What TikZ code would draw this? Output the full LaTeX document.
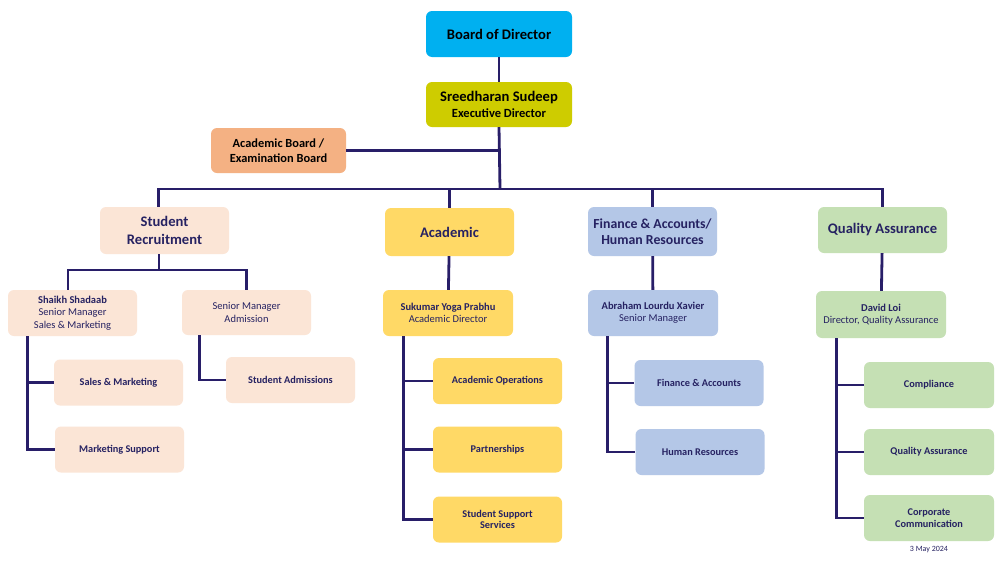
\documentclass[tikz,border=0pt]{standalone}
\usepackage{fontspec}
\setmainfont{Carlito}
\usetikzlibrary{calc}
\definecolor{navy}{RGB}{38,34,98}
\definecolor{lnavy}{RGB}{40,30,104}
\definecolor{cbod}{RGB}{0,176,240}
\definecolor{cexe}{RGB}{206,204,0}
\definecolor{cacb}{RGB}{244,177,131}
\definecolor{csr}{RGB}{251,229,214}
\definecolor{cac}{RGB}{255,217,102}
\definecolor{cfin}{RGB}{180,199,231}
\definecolor{cqa}{RGB}{197,224,180}
\tikzset{
  box/.style={rectangle, rounded corners=6pt, inner sep=0pt, align=center, text=navy},
  conn/.style={draw=lnavy, line width=2.8pt, line join=miter},
}
\begin{document}
\begin{tikzpicture}[x=1pt,y=-1pt]
\useasboundingbox (0,0) rectangle (1000,560);
\fill[white] (0,0) rectangle (1000,560);
% top
\node[box, fill=cbod, text=black, minimum width=146pt, minimum height=46pt, font=\bfseries\fontsize{14.6}{16}\selectfont] (bod) at (499,34) {Board of Director};
\node[box, fill=cexe, text=black, minimum width=146pt, minimum height=45pt, font=\fontsize{12.5}{16}\selectfont] (exe) at (499,104.5) {{\bfseries\fontsize{14.6}{16}\selectfont Sreedharan Sudeep}\\{\bfseries\fontsize{12.5}{16}\selectfont Executive Director}};
\node[box, fill=cacb, text=black, minimum width=135pt, minimum height=45pt, font=\bfseries\fontsize{12.4}{15}\selectfont] (acb) at (278.5,150.5) {Academic Board /\\Examination Board};
% level 1
\node[box, fill=csr, minimum width=129pt, minimum height=47pt, font=\bfseries\fontsize{14.6}{18}\selectfont] (sr) at (164.5,230.5) {Student\\Recruitment};
\node[box, fill=cac, minimum width=129pt, minimum height=48pt, font=\bfseries\fontsize{14.6}{17}\selectfont] (ac) at (449.5,232) {Academic};
\node[box, fill=cfin, minimum width=129pt, minimum height=49pt, font=\bfseries\fontsize{13.8}{16.5}\selectfont] (fin) at (652.5,231.5) {Finance \& Accounts/\\Human Resources};
\node[box, fill=cqa, minimum width=129pt, minimum height=46pt, font=\bfseries\fontsize{14.6}{17}\selectfont] (qa) at (882.5,230) {Quality Assurance};
% level 2
\node[box, fill=csr, minimum width=129pt, minimum height=46pt, font=\fontsize{10.5}{12.3}\selectfont] (sh) at (72.5,313) {\textbf{Shaikh Shadaab}\\Senior Manager\\Sales \& Marketing};
\node[box, fill=csr, minimum width=129pt, minimum height=45pt, font=\fontsize{10.5}{12.3}\selectfont] (sma) at (246.5,312.5) {Senior Manager\\Admission};
\node[box, fill=cac, minimum width=130pt, minimum height=46pt, font=\fontsize{10.5}{12.3}\selectfont] (sk) at (448,313) {\textbf{Sukumar Yoga Prabhu}\\Academic Director};
\node[box, fill=cfin, minimum width=130pt, minimum height=46pt, font=\fontsize{10.5}{12.3}\selectfont] (ab) at (653,313) {\textbf{Abraham Lourdu Xavier}\\Senior Manager};
\node[box, fill=cqa, minimum width=130pt, minimum height=47pt, font=\fontsize{10.5}{12.3}\selectfont] (dl) at (881,314.5) {\textbf{David Loi}\\Director, Quality Assurance};
% leaves
\tikzset{leaf/.style={box, minimum width=129pt, minimum height=46pt, font=\bfseries\fontsize{10.3}{11.8}\selectfont}}
\node[leaf, fill=csr] (sm) at (118.5,382.5) {Sales \& Marketing};
\node[leaf, fill=csr] (ms) at (119.5,449.5) {Marketing Support};
\node[leaf, fill=csr] (sa) at (290.5,380) {Student Admissions};
\node[leaf, fill=cac] (ao) at (497.5,381) {Academic Operations};
\node[leaf, fill=cac] (pa) at (497.5,449.5) {Partnerships};
\node[leaf, fill=cac] (ss) at (497.5,519.5) {Student Support\\Services};
\node[leaf, fill=cfin] (fa) at (699,383) {Finance \& Accounts};
\node[leaf, fill=cfin] (hr) at (700,452) {Human Resources};
\node[leaf, fill=cqa, minimum width=130pt] (co) at (929,385) {Compliance};
\node[leaf, fill=cqa, minimum width=130pt] (qas) at (929,452) {Quality Assurance};
\node[leaf, fill=cqa, minimum width=130pt] (cc) at (929,518) {Corporate\\Communication};
\node[text=navy, font=\fontsize{8}{9}\selectfont] (date) at (929,550) {3 May 2024};
% connectors
\coordinate (busc) at (500,189);
\coordinate (busL) at (158.5,189);
\coordinate (busR) at (882.5,189);
\coordinate (srj) at (159,270);
\draw[conn] (bod) -- (exe);
\draw[conn] (exe.south) -- (busc);
\draw[conn] (acb.east) -- (acb.east -| busc);
\draw[conn] (sr.north -| busL) -- (busL) -- (busR) -- (qa.north);
\draw[conn] (ac.north) -- (ac.north |- busL);
\draw[conn] (fin.north) -- (fin.north |- busL);
\draw[conn] (sr.south -| srj) -- (srj);
\draw[conn] ([xshift=-4.5pt]sh.north) |- (srj) -| (sma.north);
\draw[conn] (ac) -- (sk);
\draw[conn] (fin) -- (ab);
\draw[conn] (qa) -- (dl);
\draw[conn] ([xshift=20pt]sh.south west) |- (sm.west);
\draw[conn] ([xshift=20pt]sh.south west) |- (ms.west);
\draw[conn] ([xshift=18pt]sma.south west) |- (sa.west);
\draw[conn] ([xshift=21pt]sk.south west) |- (ao.west);
\draw[conn] ([xshift=21pt]sk.south west) |- (pa.west);
\draw[conn] ([xshift=21pt]sk.south west) |- (ss.west);
\draw[conn] ([xshift=20pt]ab.south west) |- (fa.west);
\draw[conn] ([xshift=20pt]ab.south west) |- (hr.west);
\draw[conn] ([xshift=21pt]dl.south west) |- (co.west);
\draw[conn] ([xshift=21pt]dl.south west) |- (qas.west);
\draw[conn] ([xshift=21pt]dl.south west) |- (cc.west);
\end{tikzpicture}
\end{document}
